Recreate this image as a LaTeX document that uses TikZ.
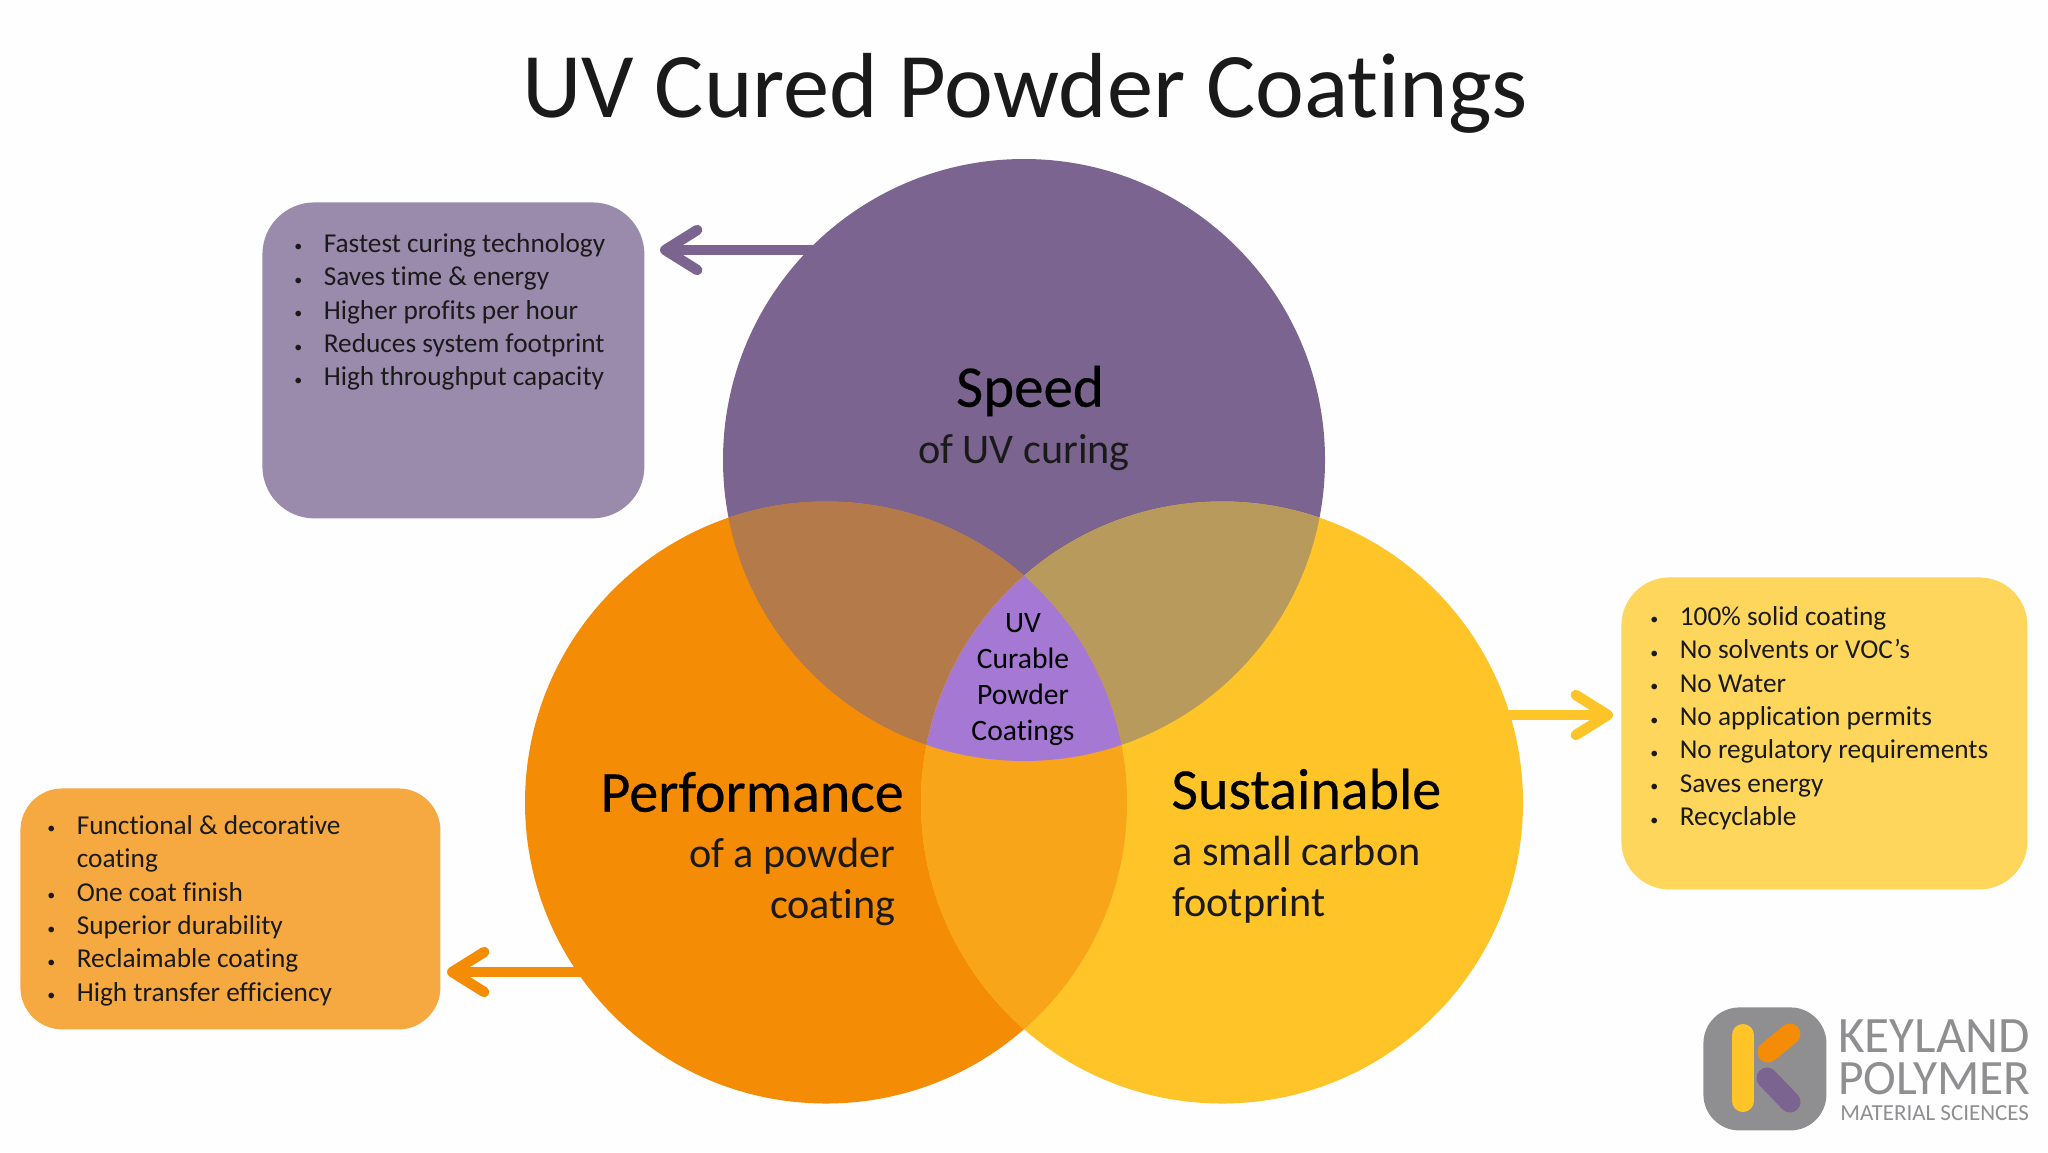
\documentclass[tikz,border=0pt]{standalone}
\usepackage{fontspec}
\setmainfont[RawFeature=-liga]{Carlito}
\newfontfamily\headfont[RawFeature=-liga,FakeBold=0.35]{Carlito}
\usetikzlibrary{arrows.meta}
\definecolor{cpurple}{HTML}{7B6590}
\definecolor{corange}{HTML}{F48C06}
\definecolor{cyellow}{HTML}{FFC428}
\definecolor{mixpo}{HTML}{B47A4A}
\definecolor{mixpy}{HTML}{B89A5C}
\definecolor{mixoy}{HTML}{F9A51A}
\definecolor{mixall}{HTML}{A578D3}
\definecolor{boxpurple}{HTML}{9A8BAC}
\definecolor{boxorange}{HTML}{F6A940}
\definecolor{boxyellow}{HTML}{FFD65C}
\definecolor{loggrey}{HTML}{8F8F92}
\definecolor{inkdark}{HTML}{1A1A1A}
\tikzset{
  venn/.style={circle,inner sep=0pt,minimum size=301pt},
  infobox/.style={rounded corners=#1,inner sep=0pt,anchor=north west},
  conn/.style={line width=5.2pt,-{Straight Barb[length=16pt,width=20pt,round]}},
  lst/.style={anchor=north west,inner sep=0pt,align=left,font=\fontsize{13.65}{16.7}\selectfont,text=inkdark},
  hd/.style={inner sep=0pt,font=\headfont\fontsize{29}{32}\selectfont,text=black},
  sub/.style={inner sep=0pt,font=\fontsize{21.1}{25.5}\selectfont,text=inkdark},
  pill/.style={line width=10.5pt,line cap=round},
  logotxt/.style={inner sep=0pt,anchor=west,text=loggrey}
}
\newcommand{\bul}{\makebox[14.7pt][l]{\raisebox{0.02em}{\footnotesize\textbullet}}}
\begin{document}
\begin{tikzpicture}[x=0.5pt,y=-0.5pt]
\useasboundingbox (0,0) rectangle (2048,1152);
\fill[white!99.5!black] (0,0) rectangle (2048,1152);

\node[font=\fontsize{46.2}{50}\selectfont,text=inkdark,inner sep=0pt] (title) at (1025,93) {UV Cured Powder Coatings};

% boxes
\node[infobox=26pt,fill=boxpurple,minimum width=191pt,minimum height=158pt] (bs) at (262,202) {};
\node[infobox=21pt,fill=boxorange,minimum width=210pt,minimum height=120.5pt] (bp) at (20,788) {};
\node[infobox=24pt,fill=boxyellow,minimum width=203pt,minimum height=156pt] (by) at (1621,577) {};

% connector ends
\coordinate (ss) at (830,250);
\coordinate (ts) at (660,250);
\coordinate (sp) at (590,972);
\coordinate (tp) at (447,972);
\coordinate (sy) at (1505,715);
\coordinate (ty) at (1613,715);
\draw[conn,cpurple] (ss) -- (ts);
\draw[conn,corange] (sp) -- (tp);
\draw[conn,cyellow] (sy) -- (ty);

% circles
\node[venn,fill=cpurple] (cs) at (1024,460) {};
\node[venn,fill=corange] (cp) at (826,802.5) {};
\node[venn,fill=cyellow] (cy) at (1222,802.5) {};
\begin{scope}
  \clip (cs) circle[radius=150.5pt];
  \fill[mixpo] (cp) circle[radius=150.5pt];
  \fill[mixpy] (cy) circle[radius=150.5pt];
\end{scope}
\begin{scope}
  \clip (cp) circle[radius=150.5pt];
  \fill[mixoy] (cy) circle[radius=150.5pt];
  \clip (cy) circle[radius=150.5pt];
  \fill[mixall] (cs) circle[radius=150.5pt];
\end{scope}

% circle labels
\node[hd,font=\headfont\fontsize{29.5}{32}\selectfont] (t1) at (1030,391) {Speed};
\node[sub] (t1b) at (1024,453) {of UV curing};
\node[hd,anchor=east] (t2) at (904,792) {Performance};
\node[sub,anchor=north east,align=right] (t2b) at (896,838) {of a powder\\coating};
\node[hd,anchor=west] (t3) at (1171,789) {Sustainable};
\node[sub,anchor=north west,align=left] (t3b) at (1172,836) {a small carbon\\footprint};
\node[inner sep=0pt,align=center,font=\fontsize{14.8}{18}\selectfont,text=black] (t4) at (1023,680) {UV\\Curable\\Powder\\Coatings};

% lists
\node[lst] (l1) at (294,233) {\bul Fastest curing technology\\\bul Saves time \& energy\\\bul Higher profits per hour\\\bul Reduces system footprint\\\bul High throughput capacity};
\node[lst] (l2) at (47,815) {\bul Functional \& decorative\\\hspace*{14.7pt}coating\\\bul One coat finish\\\bul Superior durability\\\bul Reclaimable coating\\\bul High transfer efficiency};
\node[lst] (l3) at (1650,606) {\bul 100\% solid coating\\\bul No solvents or VOC’s\\\bul No Water\\\bul No application permits\\\bul No regulatory requirements\\\bul Saves energy\\\bul Recyclable};

% logo
\node[fill=loggrey,rounded corners=18pt,minimum size=61.5pt,inner sep=0pt,anchor=north west] (logo) at (1703,1007) {};
\coordinate (ya) at (1743,1035);
\coordinate (yb) at (1743,1101);
\coordinate (oa) at (1768,1052);
\coordinate (ob) at (1790,1034);
\coordinate (pa) at (1767,1078);
\coordinate (pb) at (1790,1102);
\draw[pill,line width=11pt,cyellow] (ya) -- (yb);
\draw[pill,corange] (oa) -- (ob);
\draw[pill,cpurple] (pa) -- (pb);
\node[logotxt,font=\fontsize{25.5}{26}\selectfont] (k1) at (1838,1036) {KEYLAND};
\node[logotxt,font=\fontsize{24.7}{26}\selectfont] (k2) at (1838,1079) {POLYMER};
\node[logotxt,font=\fontsize{11.5}{12}\selectfont] (k3) at (1840,1113) {MATERIAL SCIENCES};
\end{tikzpicture}
\end{document}
